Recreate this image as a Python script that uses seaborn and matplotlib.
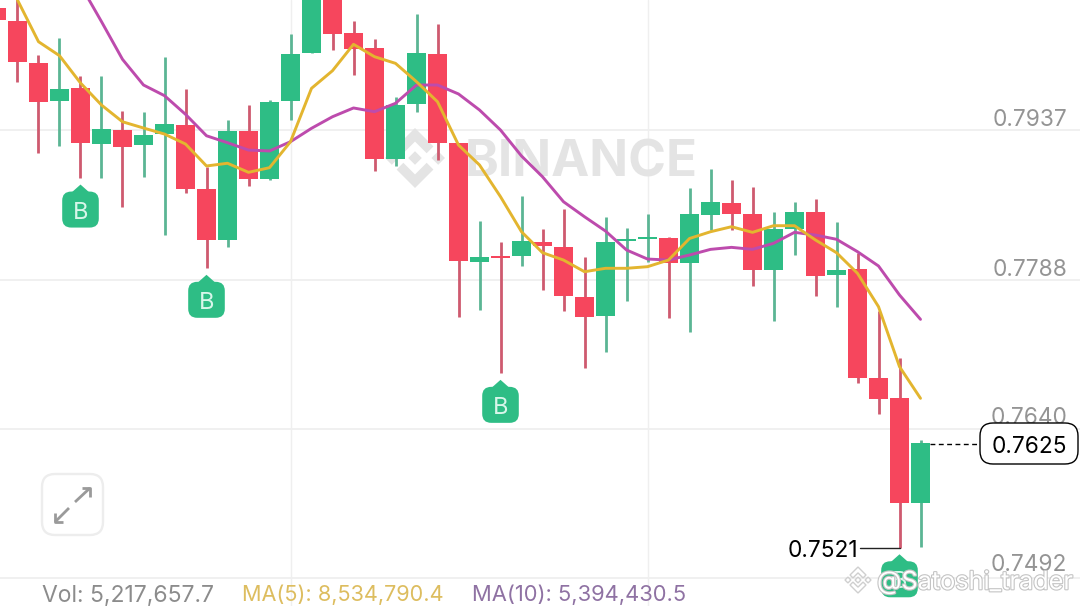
import numpy as np
import pandas as pd
import matplotlib
matplotlib.use("Agg")
import matplotlib.pyplot as plt
import matplotlib.patheffects as pe
from matplotlib.patches import FancyBboxPatch, Polygon
from matplotlib.lines import Line2D
from matplotlib.transforms import Affine2D, ScaledTranslation
import seaborn as sns

opens = [.80582,.80453,.80040,.79658,.79792,.79234,.79370,.79218,.79330,.79423,.78784,.78278,.79363,.78883,.79658,
         .80138,.80760,.80330,.80181,.79085,.79628,.80122,.79244,.78059,.78122,.78119,.78255,.78205,.77715,.77523,
         .78271,.78291,.78295,.78046,.78526,.78645,.78533,.77980,.78384,.78556,.77927,.77987,.76908,.76706,.75663]
closes = [.80462,.80045,.79648,.79782,.79244,.79380,.79204,.79320,.79430,.78787,.78278,.79363,.78886,.79651,.80128,
          .80760,.80326,.80177,.79085,.79618,.80132,.79238,.78071,.78112,.78102,.78265,.78218,.77722,.77510,.78255,
          .78291,.78311,.78046,.78536,.78655,.78536,.77980,.78384,.78556,.77920,.77983,.76908,.76702,.75663,.76259]
highs = [.80582,.80760,.80115,.80284,.79906,.79906,.79562,.79552,.80092,.79780,.79006,.79470,.79621,.79665,.80323,
         .80860,.80860,.80452,.80271,.79701,.80522,.80423,.79244,.78463,.78255,.78715,.78384,.78583,.78106,.78503,
         .78394,.78533,.78311,.78791,.78983,.78874,.78804,.78556,.78655,.78682,.78454,.78146,.77573,.77103,.76292]
lows = [.80462,.79847,.79142,.79211,.78893,.78893,.78608,.78906,.78330,.78747,.77997,.78211,.78817,.78874,.79470,
        .80138,.80164,.79913,.78966,.79016,.79546,.79072,.77510,.77583,.76954,.78020,.77781,.77573,.77010,.77169,
        .77672,.78059,.77500,.77367,.78377,.78377,.77821,.77476,.78129,.77722,.77615,.76861,.76550,.75222,.75232]
ma5_index = list(range(1, 45))
ma5_values = [.80661,.80247,.80108,.79837,.79618,.79452,.79390,.79330,.79231,.79013,.79040,.78950,.78996,.79254,.79784,
              .79959,.80221,.80098,.80032,.79850,.79651,.79221,.79023,.78708,.78360,.78152,.78079,.77963,.77997,.77997,
              .78013,.78079,.78293,.78360,.78410,.78354,.78420,.78420,.78278,.78152,.77947,.77616,.77020,.76706]
ma10_index = list(range(4, 45))
ma10_values = [.80810,.80446,.80072,.79817,.79711,.79526,.79313,.79244,.79171,.79162,.79254,.79387,.79502,.79589,.79552,
               .79635,.79817,.79817,.79728,.79569,.79370,.79112,.78906,.78658,.78509,.78367,.78179,.78089,.78079,.78129,
               .78185,.78205,.78185,.78245,.78354,.78327,.78285,.78162,.78020,.77732,.77490]
axis_prices = [0.7937, 0.7788, 0.7640, 0.7492]
axis_labels = ["0.7937", "0.7788", "0.7640", "0.7492"]
buy_index = [4, 10, 24, 43]
v_grid_index = [14, 31]
last_price = 0.7625
last_label = "0.7625"
low_label = "0.7521"
low_index = 43
legend_texts = ["Vol: 5,217,657.7", "MA(5): 8,534,790.4", "MA(10): 5,394,430.5"]

RED, GREEN = "#F6465D", "#2EBD85"
RED_W, GREEN_W = "#CE5A6F", "#5BB594"
GRID = "#EFEFEF"
W, H = 1080, 606

sns.set_style("white")
plt.rcParams["font.family"] = ["Inter", "DejaVu Sans"]
fig = plt.figure(figsize=(W / 100, H / 100), dpi=100)
ax = fig.add_axes([0, 0, 1, 1])
ax.set_xlim(0.1667, 51.595)
ax.set_ylim(0.74644, 0.80661)
for s in ax.spines.values():
    s.set_visible(False)

px = Affine2D().scale(1, -1).translate(0, H)   # top-left pixel frame for decoration
def X(i):
    return ax.transData.transform((i, 0.78))[0]
def Y(p):
    return H - ax.transData.transform((1, p))[1]

# grid
for p in axis_prices:
    ax.axhline(p, color=GRID, lw=1.3, zorder=0)
for i in v_grid_index:
    ax.axvline(i, color=GRID, lw=1.0, zorder=0)

# axis labels
ax.yaxis.tick_right()
ax.set_yticks(axis_prices)
ax.set_yticklabels(axis_labels, fontsize=16.3, color="#949494", ha="right")
ax.tick_params(axis="y", length=0, pad=-9.0, labelright=True, labelleft=False)
ax.tick_params(axis="x", length=0, labelbottom=False)
for lab, dy in zip(ax.get_yticklabels(), [13, 13, 14, 16]):
    lab.set_transform(lab.get_transform() + ScaledTranslation(0, dy / 100, fig.dpi_scale_trans))
ax.set_xticks([])

# watermark
logo_shapes = [
    [(38.73, 53.2), (63.3, 28.63), (87.88, 53.21), (102.18, 38.91), (63.3, 0), (24.43, 38.88)],
    [(0, 63.3), (14.3, 49), (28.6, 63.3), (14.3, 77.6)],
    [(49, 63.3), (63.31, 49), (77.6, 63.3), (63.3, 77.6)],
    [(98, 63.3), (112.3, 49), (126.6, 63.3), (112.3, 77.6)],
    [(38.73, 73.4), (63.3, 97.97), (87.88, 73.39), (102.18, 87.69), (63.3, 126.6), (24.43, 87.72)],
]
def logo(cx, cy, r, **kw):
    for shp in logo_shapes:
        pts = [(cx + (a - 63.3) / 63.3 * r, cy + (b - 63.3) / 63.3 * r) for a, b in shp]
        ax.add_patch(Polygon(pts, closed=True, transform=px, **kw))

logo(415, 158, 30, facecolor="#E4E4E4", edgecolor="none", zorder=0.5)
ax.text(581.5, 158, "BINANCE", transform=px, ha="center", va="center_baseline", fontsize=36.8, fontweight="bold",
        color="#E4E4E4", zorder=0.5)

# candles
df = pd.DataFrame({"i": np.arange(len(opens)), "o": opens, "c": closes, "h": highs, "l": lows})
df["up"] = df["c"] >= df["o"]
ax.vlines(df["i"], df["l"], df["h"], colors=np.where(df["up"], GREEN_W, RED_W), lw=2.0, zorder=2)
ax.bar(df["i"], (df["c"] - df["o"]).abs(), bottom=df[["o", "c"]].min(axis=1), width=0.865,
       color=np.where(df["up"], GREEN, RED), linewidth=0, zorder=3)

# moving averages
sns.lineplot(data=pd.DataFrame({"i": ma10_index, "v": ma10_values}), x="i", y="v", ax=ax, color="#BD4BAD", lw=2.1,
             errorbar=None, zorder=5)
sns.lineplot(data=pd.DataFrame({"i": ma5_index, "v": ma5_values}), x="i", y="v", ax=ax, color="#E3B52F", lw=2.1,
             errorbar=None, zorder=6)
ax.set_xlabel("")
ax.set_ylabel("")

# buy badges
for i in buy_index:
    x0, tip = X(i), Y(lows[i]) + 6.5
    top = tip + 7
    ax.add_patch(FancyBboxPatch((x0 - 18.3 + 8, top + 8), 36.6 - 16, 36 - 16,
                                boxstyle="round,pad=8,rounding_size=9", transform=px,
                                facecolor=GREEN, edgecolor="none", zorder=7, mutation_aspect=1))
    ax.add_patch(Polygon([(x0 - 9, top + 1), (x0, tip), (x0 + 9, top + 1)], closed=True, transform=px,
                         facecolor=GREEN, edgecolor="none", zorder=7))
    ax.text(x0, top + 18.5, "B", transform=px, ha="center", va="center_baseline", fontsize=17,
            color="#D8F6EA", zorder=8)

# expand button
ax.add_patch(FancyBboxPatch((42 + 12, 474 + 12), 61 - 24, 61 - 24, boxstyle="round,pad=12,rounding_size=13",
                            transform=px, facecolor="white", edgecolor="#EDEDED", lw=1.7, zorder=4))
for seg in ([(69, 508), (55, 522)], [(55, 513), (55, 522), (63, 522)],
            [(75, 502), (90, 488)], [(82, 488), (90, 488), (90, 497)]):
    xs, ys = zip(*seg)
    ax.add_line(Line2D(xs, ys, transform=px, color="#9A9A9A", lw=2.0, zorder=5, solid_capstyle="butt"))

# last price tag
yl = Y(last_price)
ax.add_line(Line2D([930, 980], [yl, yl], transform=px, color="black", lw=1.0, dashes=(3.5, 2.5), zorder=6))
ax.add_patch(FancyBboxPatch((980 + 13, 423 + 13), 98 - 26, 41 - 26, boxstyle="round,pad=13,rounding_size=13",
                            transform=px, facecolor="white", edgecolor="black", lw=1.0, zorder=7))
ax.text(1029, yl, last_label, transform=px, ha="center", va="center_baseline", fontsize=16.3, color="black", zorder=8)

# low price label
yp = Y(lows[low_index])
ax.add_line(Line2D([860, X(low_index)], [yp, yp], transform=px, color="#222222", lw=1.0, zorder=6))
ax.text(858.5, yp + 0.5, low_label, transform=px, ha="right", va="center_baseline", fontsize=16.3, color="black", zorder=8)

# bottom legend
for xt, txt, col, fs in zip([42, 242, 472], legend_texts, ["#8C8C8C", "#DDBD5F", "#8F72A3"], [16.5, 15.6, 15.8]):
    ax.text(xt, 593, txt, transform=px, ha="left", va="center_baseline", fontsize=fs, color=col, zorder=8)

# author watermark
logo(858, 580, 13, facecolor="white", edgecolor="#CFCFCF", lw=1.0, zorder=9)
ax.text(877, 580, "@Satoshi_trader", transform=px, ha="left", va="center_baseline", fontsize=18.2, color="white",
        zorder=9, path_effects=[pe.withStroke(linewidth=1.6, foreground="#C4C4C4")])

fig.savefig("out.png", dpi=100)
